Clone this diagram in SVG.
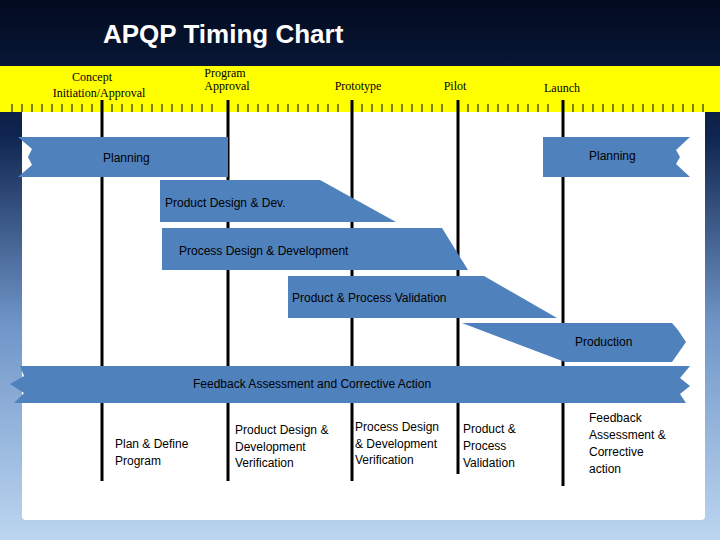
<svg xmlns="http://www.w3.org/2000/svg" width="720" height="540" viewBox="0 0 720 540">
<defs>
<linearGradient id="bg" x1="0" y1="0" x2="0" y2="1">
<stop offset="0" stop-color="#020a1e"/><stop offset="0.25" stop-color="#0f2550"/><stop offset="0.6" stop-color="#6f95c8"/><stop offset="1" stop-color="#bcd6f0"/>
</linearGradient>
</defs>
<style>
.ph{font-family:"Liberation Serif",serif;font-size:12px;fill:#000}
.bar{fill:#4f81bd}
.t{font-family:"Liberation Sans",sans-serif;font-size:12px;fill:#000}
.v{stroke:#000;stroke-width:3}
.tk{stroke:#000;stroke-width:1}
</style>
<rect width="720" height="540" fill="url(#bg)"/>
<rect x="22" y="100" width="683" height="420" rx="4" fill="#fff"/>
<rect x="0" y="66" width="720" height="46" fill="#ffff00"/>
<path class="tk" d="M12 104v8M22 104v8M32 104v8M42 104v8M52 104v8M62 104v8M72 104v8M82 104v8M92 104v8M112 104v8M122 104v8M132 104v8M142 104v8M152 104v8M162 104v8M172 104v8M182 104v8M192 104v8M202 104v8M212 104v8M238 104v8M248 104v8M258 104v8M268 104v8M278 104v8M288 104v8M298 104v8M308 104v8M318 104v8M328 104v8M338 104v8M362 104v8M372 104v8M382 104v8M392 104v8M402 104v8M412 104v8M422 104v8M432 104v8M442 104v8M468 104v8M478 104v8M488 104v8M498 104v8M508 104v8M518 104v8M528 104v8M538 104v8M548 104v8M573 104v8M583 104v8M593 104v8M603 104v8M613 104v8M623 104v8M633 104v8M643 104v8M653 104v8M663 104v8M673 104v8M683 104v8M693 104v8M703 104v8"/>
<text x="103" y="43" font-family="Liberation Sans,sans-serif" font-size="26" font-weight="bold" fill="#fff">APQP Timing Chart</text>
<g id="phases">
<text class="ph" x="92" y="81" text-anchor="middle">Concept</text>
<text class="ph" x="99" y="97" text-anchor="middle">Initiation/Approval</text>
<text class="ph" x="225" y="77" text-anchor="middle" font-size="11">Program</text>
<text class="ph" x="227" y="90" text-anchor="middle" font-size="11">Approval</text>
<text class="ph" x="358" y="90" text-anchor="middle">Prototype</text>
<text class="ph" x="455" y="90" text-anchor="middle">Pilot</text>
<text class="ph" x="562" y="92" text-anchor="middle">Launch</text>
</g>
<g id="connectors">
<line class="v" x1="102" y1="100" x2="102" y2="481"/>
<line class="v" x1="228" y1="100" x2="228" y2="481"/>
<line class="v" x1="352" y1="100" x2="352" y2="481"/>
<line class="v" x1="458" y1="100" x2="458" y2="474"/>
<line class="v" x1="563" y1="100" x2="563" y2="486"/>
</g>
<g id="planning-left"><polygon class="bar" points="18,137 228,137 228,177 18,177 32,165 28,157 32,149"/><text class="t" x="103" y="162">Planning</text></g>
<g id="planning-right"><polygon class="bar" points="543,137 690,137 676,150 680,157 676,164 690,177 543,177"/><text class="t" x="589" y="160">Planning</text></g>
<g id="product-design"><polygon class="bar" points="160,180 320,180 396,222 160,222"/><text class="t" x="165" y="207">Product Design &amp; Dev.</text></g>
<g id="process-design"><polygon class="bar" points="162,228 442,228 468,270 162,270"/><text class="t" x="179" y="255">Process Design &amp; Development</text></g>
<g id="validation"><polygon class="bar" points="288,276 484,276 557,318 288,318"/><text class="t" x="292" y="302">Product &amp; Process Validation</text></g>
<g id="production"><polygon class="bar" points="462,323 672,323 678,330 686,342 672,362 565,362"/><text class="t" x="575" y="346">Production</text></g>
<g id="feedback"><polygon class="bar" points="20,366 690,366 680,378 690,386 680,394 686,403 14,403 24,393 10,384 24,376"/><text class="t" x="193" y="388">Feedback Assessment and Corrective Action</text></g>
<g id="labels">
<text class="t" x="115" y="448">Plan &amp; Define</text><text class="t" x="115" y="465">Program</text>
<text class="t" x="235" y="434">Product Design &amp;</text><text class="t" x="235" y="451">Development</text><text class="t" x="235" y="467">Verification</text>
<text class="t" x="355" y="431">Process Design</text><text class="t" x="355" y="448">&amp; Development</text><text class="t" x="355" y="464">Verification</text>
<text class="t" x="463" y="433">Product &amp;</text><text class="t" x="463" y="450">Process</text><text class="t" x="463" y="467">Validation</text>
<text class="t" x="589" y="422">Feedback</text><text class="t" x="589" y="439">Assessment &amp;</text><text class="t" x="589" y="456">Corrective</text><text class="t" x="589" y="473">action</text>
</g>
</svg>
